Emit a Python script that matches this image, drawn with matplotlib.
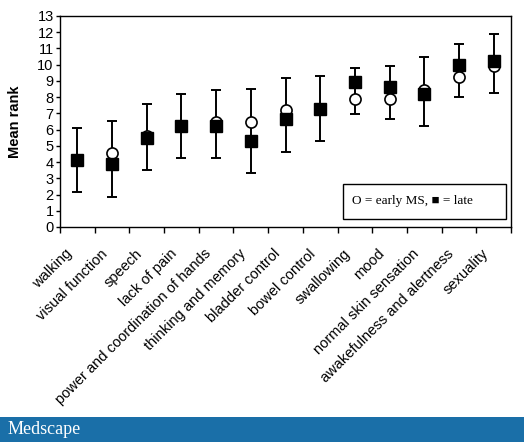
import matplotlib
matplotlib.use("Agg")
import matplotlib.pyplot as plt
from matplotlib.patches import Rectangle
from matplotlib.transforms import ScaledTranslation
import numpy as np

categories = ["walking", "visual function", "speech", "lack of pain",
              "power and coordination of hands", "thinking and memory",
              "bladder control", "bowel control", "swallowing", "mood",
              "normal skin sensation", "awakefulness and alertness", "sexuality"]
early = [4.1, 4.54, 5.62, 6.25, 6.45, 6.49, 7.19, 7.29, 7.87, 7.89, 8.44, 9.26, 9.9]
late = [4.13, 3.88, 5.5, 6.24, 6.22, 5.28, 6.65, 7.29, 8.93, 8.61, 8.18, 9.96, 10.23]
err_low = [2.14, 1.87, 3.51, 4.25, 4.25, 3.31, 4.62, 5.3, 6.94, 6.63, 6.2, 7.99, 8.27]
err_high = [6.08, 6.53, 7.58, 8.21, 8.42, 8.48, 9.16, 9.3, 9.82, 9.9, 10.46, 11.28, 11.91]
yticks = list(range(0, 14))

fig = plt.figure(figsize=(5.24, 4.42), dpi=100)
ax = fig.add_axes([60/524, 1-227/442, 451/524, 211/442])

x = np.arange(len(categories))
mid = [(lo + hi) / 2 for lo, hi in zip(err_low, err_high)]
half = [(hi - lo) / 2 for lo, hi in zip(err_low, err_high)]
ax.errorbar(x, mid, yerr=half, fmt='none', ecolor='black', elinewidth=1.4,
            capsize=3.5, capthick=1.4, zorder=2)
ax.plot(x, early, linestyle='none', marker='o', markersize=8,
        markerfacecolor='white', markeredgecolor='black', markeredgewidth=1.2, zorder=3)
ax.plot(x, late, linestyle='none', marker='s', markersize=8,
        markerfacecolor='black', markeredgecolor='black', zorder=4)

ax.set_xlim(-0.5, len(categories) - 0.5)
ax.set_ylim(0, 13)
ax.set_yticks(yticks)
ax.set_yticklabels([str(t) for t in yticks], fontsize=10.5, family='Liberation Sans')
ax.tick_params(axis='y', length=3, width=1, pad=1.5)
ax.set_xticks(x)
ax.set_xticklabels(categories, rotation=45, ha='right', rotation_mode='anchor',
                   fontsize=10.5, family='Liberation Sans')
ax.tick_params(axis='x', which='major', length=0, pad=12)
shift = ScaledTranslation(-12/100, -3/100, fig.dpi_scale_trans)
for lab in ax.get_xticklabels():
    lab.set_transform(lab.get_transform() + shift)
ax.set_xticks(np.arange(-0.5, len(categories) + 0.5, 1), minor=True)
ax.tick_params(axis='x', which='minor', length=4, width=1, direction='out')
for s in ax.spines.values():
    s.set_linewidth(1)
    s.set_color('black')
ax.set_ylabel("Mean rank", fontsize=10.5, fontweight='bold', family='Liberation Sans', labelpad=11)

# legend box
ax.add_patch(Rectangle((0.627, 0.038), 0.362, 0.166, transform=ax.transAxes,
                       facecolor='white', edgecolor='black', linewidth=1, zorder=5))
ax.text(0.648, 0.121, "O = early MS, \u25a0 = late", transform=ax.transAxes,
        fontsize=9.5, family=['Liberation Serif', 'DejaVu Sans'], va='center', ha='left', zorder=6)

# banner
fig.patches.append(Rectangle((0, 0), 1, 25/442, transform=fig.transFigure,
                             facecolor='#1a6fa8', edgecolor='none', zorder=0))
fig.text(8/524, 12.5/442, "Medscape", color='white', fontsize=13,
         family='Liberation Serif', va='center', ha='left')

fig.savefig("out.png", dpi=100)
